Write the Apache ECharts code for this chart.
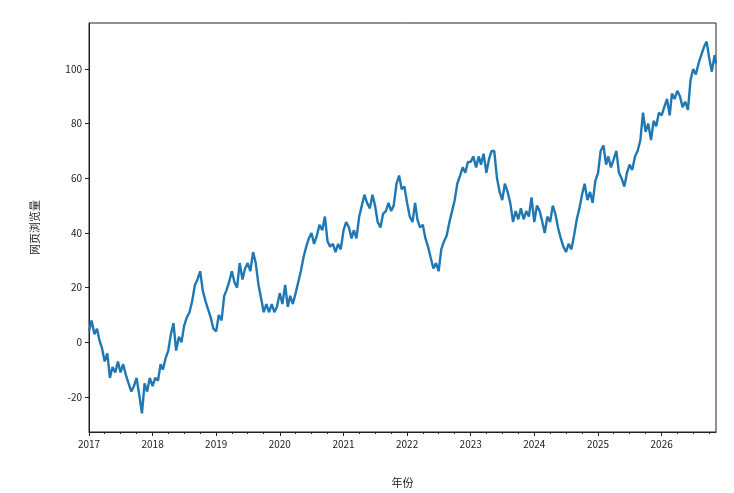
<!DOCTYPE html>
<html>
<head>
<meta charset="utf-8">
<script src="https://cdn.jsdelivr.net/npm/echarts@6/dist/echarts.min.js"></script>
<style>html,body{margin:0;padding:0;background:#fff;}#c{width:734px;height:493px;}</style>
</head>
<body>
<div id="c"></div>
<script>
// half-monthly readings (1st and 16th of each month), last value at END date
const START = '2017-01-01';
const END = '2026-11-09';
const v2017 = [4,8,3,5,1,-2,-7,-4,-13,-9,-11,-7,-11,-8,-12,-15,-18,-16,-13,-19,-26,-15,-18,-13];
const v2018 = [-16,-13,-14,-8,-10,-6,-3,3,7,-3,2,0,6,9,11,15,21,23,26,19,15,12,9,5];
const v2019 = [4,10,8,17,19,22,26,22,20,29,23,27,29,26,33,29,21,16,11,14,11,14,11,13];
const v2020 = [18,14,21,13,17,14,18,22,26,31,35,38,40,36,39,43,41,46,37,35,36,33,36,34];
const v2021 = [41,44,42,38,41,38,46,50,54,51,49,54,50,44,42,47,48,51,48,50,58,61,56,57];
const v2022 = [51,46,44,51,45,42,43,38,35,31,27,29,26,34,37,39,44,48,52,58,61,64,62,66];
const v2023 = [66,68,64,68,65,69,62,67,70,70,60,55,52,58,55,51,44,48,45,49,45,48,46,53];
const v2024 = [44,50,48,44,40,46,44,50,47,42,38,35,33,36,34,39,45,49,54,58,52,55,51,59];
const v2025 = [62,70,72,65,68,64,67,70,62,60,57,62,65,63,68,70,74,84,77,80,74,81,79,84];
const v2026 = [83,86,89,83,91,89,92,90,86,88,85,96,100,98,102,105,108,110,104,99,105,102];
const years = [2017,2018,2019,2020,2021,2022,2023,2024,2025,2026];
const yearValues = [v2017,v2018,v2019,v2020,v2021,v2022,v2023,v2024,v2025,v2026];
const yTicks = [-20,0,20,40,60,80,100];
const yMin = -32.8, yMax = 116.8;
const xName = '年份';
const yName = '网页浏览量';

function ts(s){ const p = s.split('-').map(Number); return Date.UTC(p[0], p[1]-1, p[2]); }
const endTs = ts(END);
const data = [];
years.forEach((y, yi) => {
  const vals = yearValues[yi];
  let k = 0;
  for (let m = 0; m < 12; m++) {
    for (const d of [1, 16]) {
      const t = Date.UTC(y, m, d);
      if (t >= endTs || k >= vals.length) continue;
      data.push([t, vals[k++]]);
    }
  }
  if (k < vals.length) data.push([endTs, vals[k]]);
});
const yearTicks = years.map(y => Date.UTC(y, 0, 1));
const quarterTicks = [];
years.forEach(y => [3, 6, 9].forEach(m => {
  const t = Date.UTC(y, m, 1);
  if (t < endTs) quarterTicks.push(t);
}));

const font = '"Noto Sans CJK SC", "DejaVu Sans", sans-serif';
const chart = echarts.init(document.getElementById('c'), null, {renderer: 'canvas'});
chart.setOption({
  animation: false,
  grid: {left: 89, right: 18, top: 23, bottom: 61, show: true, borderColor: '#222', borderWidth: 1, backgroundColor: '#fff'},
  xAxis: [{
    type: 'value', min: ts(START), max: endTs,
    name: xName, nameLocation: 'middle', nameGap: 45,
    nameTextStyle: {color: '#222', fontSize: 11, fontFamily: font},
    axisLine: {show: true, onZero: false, lineStyle: {color: '#222', width: 1}},
    axisTick: {show: true, length: 4, lineStyle: {color: '#222'}, customValues: yearTicks},
    axisLabel: {color: '#222', fontSize: 10, fontFamily: font, margin: 7, customValues: yearTicks,
      formatter: v => String(new Date(v).getUTCFullYear())},
    splitLine: {show: false}
  }, {
    type: 'value', min: ts(START), max: endTs, position: 'bottom',
    axisLine: {show: false, onZero: false},
    axisTick: {show: true, length: 2, lineStyle: {color: '#222'}, customValues: quarterTicks},
    axisLabel: {show: false},
    splitLine: {show: false}
  }],
  yAxis: {
    type: 'value', min: yMin, max: yMax,
    name: yName, nameLocation: 'middle', nameGap: 49, nameRotate: 90,
    nameTextStyle: {color: '#222', fontSize: 11, fontFamily: font},
    axisLine: {show: true, onZero: false, lineStyle: {color: '#222', width: 1}},
    axisTick: {show: true, length: 4, lineStyle: {color: '#222'}, customValues: yTicks},
    axisLabel: {color: '#222', fontSize: 10, fontFamily: font, margin: 7, customValues: yTicks},
    splitLine: {show: false}
  },
  series: [{
    type: 'line', data: data, showSymbol: false, symbol: 'none',
    lineStyle: {color: '#1f77b4', width: 2.4}, xAxisIndex: 0
  }]
});
</script>
</body>
</html>
